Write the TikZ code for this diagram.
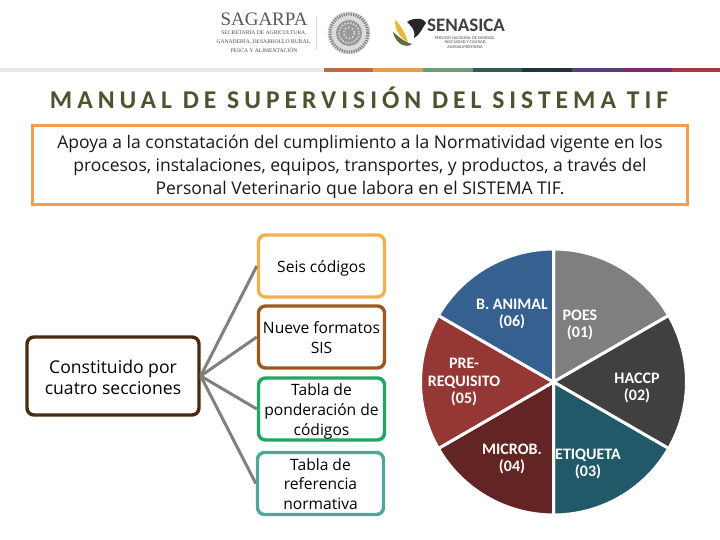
\documentclass[tikz,border=0pt]{standalone}
\usepackage{fontspec}
\usetikzlibrary{calc}
\setmainfont{Open Sans}
\newfontfamily\titlefont[LetterSpace=19.5]{Carlito}
\newfontfamily\carl{Carlito}
\newfontfamily\logoserif{Liberation Serif}
\newcommand{\fs}[2]{\fontsize{#1}{#2}\selectfont}
\tikzset{
  box/.style={draw=#1,line width=3.4pt,rounded corners=7pt,fill=white,inner sep=0pt,align=center,font=\fs{15.6}{19.6}},
  boxtext/.style={inner sep=0pt,align=center,font=\fs{15.6}{19.6}},
  linkline/.style={draw=black!50,line width=3pt},
  slice/.style={draw=white,line width=3pt,fill=#1},
  pielabel/.style={text=white,align=center,font=\carl\bfseries\fs{16}{17.5},inner sep=0pt},
  logotext/.style={text=black!55,align=center,inner sep=0pt},
}
\begin{document}
\begin{tikzpicture}[x=1pt,y=-1pt]
\useasboundingbox (0,0) rectangle (720,540);
\fill[white] (0,0) rectangle (720,540);
% top bar
\fill[black!9] (0,68) rectangle (324,72);
\foreach \a/\b/\c in {324/373/C0694A,373/423/DDA050,423/473/6B9B78,473/522/2F5A55,522/572/1F3640,572/622/5A3F7E,622/672/7A2F6A,672/720/A93540}{
  \definecolor{seg}{HTML}{\c}\fill[seg] (\a,68) rectangle (\b,72);}
% logos
\node[logotext,font=\logoserif\fs{19}{19},text=black!65] (sag) at (264,19) {SAGARPA};
\node[logotext,font=\logoserif\fs{5.6}{9},text=black!70] (sagsub) at (264,41) {SECRETARÍA DE AGRICULTURA,\\GANADERÍA, DESARROLLO RURAL,\\PESCA Y ALIMENTACIÓN};
\draw[black!15,line width=0.8pt] (316,16) -- (316,50);
\fill[black!14] (349,33) circle (21.5);
\draw[black!50,line width=3pt,dash pattern=on 1.2pt off 1.2pt] (349,33) circle (19);
\fill[black!40] (349,33) circle (13);
\draw[black!15,line width=1.5pt,dash pattern=on 1.5pt off 1.5pt] (349,33) circle (10);
\draw[black!15,line width=1.5pt,dash pattern=on 1.5pt off 2pt] (349,33) circle (5.5);
\definecolor{corn}{HTML}{E3B93A}\definecolor{cornd}{HTML}{5F6B3A}
\fill[corn] (395,20) .. controls (400,24) and (406,34) .. (408,42) .. controls (400,38) and (395,30) .. (395,20);
\fill[cornd] (393,32) .. controls (398,36) and (404,42) .. (412,44) .. controls (408,48) and (396,46) .. (393,32);
\fill[black!85] (407,22) .. controls (414,17) and (424,18) .. (426,23) .. controls (422,28) and (421,34) .. (414,38) .. controls (416,30) and (411,26) .. (407,22);
\node[inner sep=0pt,font=\carl\bfseries\fs{19}{19},text=black!75] (sen) at (466,25.5) {SENASICA};
\node[logotext,font=\carl\fs{4.4}{4.8},text=black!70] (sensub) at (465,42.5) {SERVICIO NACIONAL DE SANIDAD,\\INOCUIDAD Y CALIDAD\\AGROALIMENTARIA};
% title
\definecolor{titlec}{HTML}{4A5530}
\node[inner sep=0pt,text=titlec,font=\titlefont\bfseries\fs{25.6}{26}] (title) at (359,98) {MANUAL DE SUPERVISIÓN DEL SISTEMA TIF};
% main text box
\node[draw=orange!70!brown!75,line width=2.6pt,minimum width=655pt,minimum height=79pt,inner sep=0pt] (intro) at (360,165) {};
\node[inner sep=0pt,align=center,font=\fs{17.5}{23},text=black!90] (introtext) at (360,167)
 {Apoya a la constatación del cumplimiento a la Normatividad vigente en los\\procesos, instalaciones, equipos, transportes, y productos, a través del\\Personal Veterinario que labora en el SISTEMA TIF.};
% boxes
\definecolor{cbrown}{HTML}{4A2A0E}\definecolor{cyel}{HTML}{F4B04F}\definecolor{corange}{HTML}{9C5A1A}\definecolor{cgreen}{HTML}{1FA862}\definecolor{cteal}{HTML}{52A898}
\node[box=cbrown,minimum width=172pt,minimum height=78pt] (root) at (113,376) {};
\node[boxtext,font=\fs{17.6}{21.5}] (roottext) at (113,377.5) {Constituido por\\cuatro secciones};
\node[box=cyel,minimum width=126pt,minimum height=62pt] (b1) at (321.5,266) {};
\node[box=corange,minimum width=126pt,minimum height=62pt] (b2) at (321.5,337) {};
\node[box=cgreen,minimum width=126pt,minimum height=62pt] (b3) at (321.5,409) {};
\node[box=cteal,minimum width=126pt,minimum height=62pt] (b4) at (320.5,483.5) {};
\node[boxtext] (t1) at (321.5,268) {Seis códigos};
\node[boxtext] (t2) at (321.5,337.5) {Nueve formatos\\SIS};
\node[boxtext] (t3) at (321.5,411.5) {Tabla de\\ponderación de\\códigos};
\node[boxtext] (t4) at (320.5,484) {Tabla de\\referencia\\normativa};
\foreach \t in {b1,b2,b3,b4}{\draw[linkline] (root.east) -- (\t.west);}
% pie
\coordinate (pc) at (553.5,382);
\begin{scope}[y=1pt]
\foreach \s/\e/\c in {90/30/p1,30/-30/p2,-30/-90/p3,-90/-150/p4,-150/-210/p5,-210/-270/p6}{
  \definecolor{p1}{HTML}{7F7F7F}\definecolor{p2}{HTML}{404040}\definecolor{p3}{HTML}{215968}\definecolor{p4}{HTML}{632523}\definecolor{p5}{HTML}{953735}\definecolor{p6}{HTML}{35608F}
  \filldraw[slice=\c] (pc) -- ($(pc)+(\s:133pt)$) arc[start angle=\s,end angle=\e,radius=133pt] -- cycle;}
\end{scope}
\node[pielabel] (l6) at (512,314) {B. ANIMAL\\(06)};
\node[pielabel] (l1) at (580,325) {POES\\(01)};
\node[pielabel] (l2) at (637,388) {HACCP\\(02)};
\node[pielabel] (l3) at (588,464) {ETIQUETA\\(03)};
\node[pielabel] (l4) at (512,459) {MICROB.\\(04)};
\node[pielabel] (l5) at (464,382.5) {PRE-\\REQUISITO\\(05)};
\end{tikzpicture}
\end{document}
